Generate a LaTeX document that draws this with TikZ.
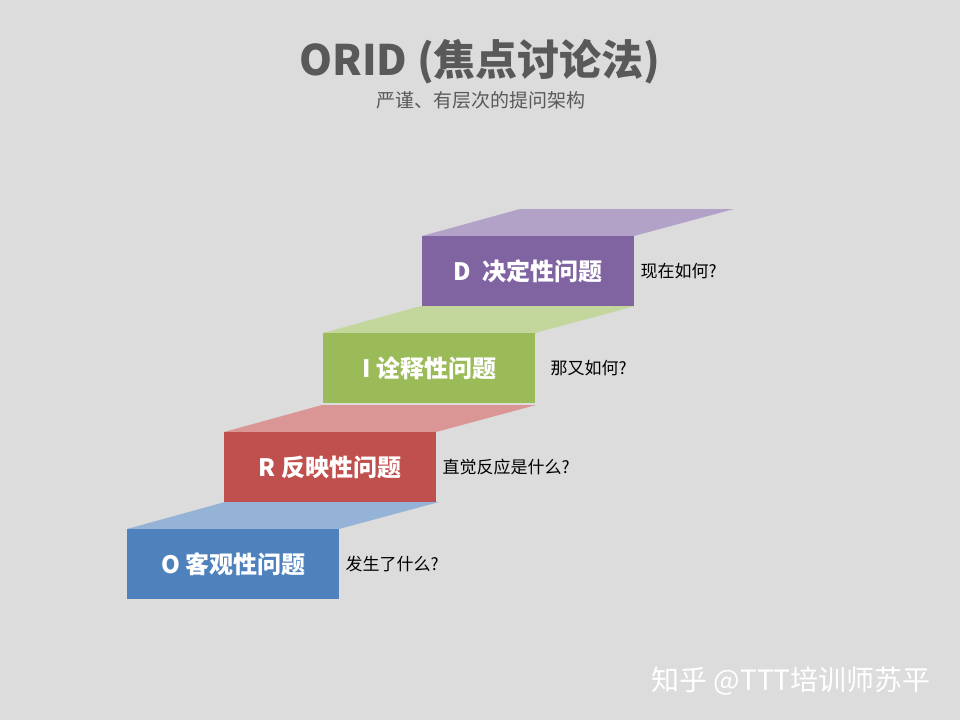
\documentclass[tikz,border=0pt]{standalone}
\usepackage{fontspec}
\setmainfont{Noto Sans CJK SC}
\definecolor{bg}{HTML}{DCDCDC}
\definecolor{ttl}{HTML}{595959}
\definecolor{bF}{HTML}{4F81BD}\definecolor{bT}{HTML}{95B3D7}
\definecolor{rF}{HTML}{C0504D}\definecolor{rT}{HTML}{D99694}
\definecolor{gF}{HTML}{9BBB59}\definecolor{gT}{HTML}{C3D69B}
\definecolor{pF}{HTML}{8064A2}\definecolor{pT}{HTML}{B3A2C7}
\tikzset{front/.style={minimum width=212pt,minimum height=70pt,inner sep=0pt,text=white,font=\fontsize{24}{28}\selectfont\bfseries},
side/.style={anchor=west,font=\fontsize{17}{20}\selectfont}}
\begin{document}
\begin{tikzpicture}[x=1pt,y=-1pt]
\fill[bg] (0,0) rectangle (960,720);
\useasboundingbox (0,0) rectangle (960,720);
\node[text=ttl,font=\fontsize{42}{48}\selectfont\bfseries] (title) at (480,62) {ORID (焦点讨论法)};
\node[text=ttl,font=\fontsize{19}{22}\selectfont] (sub) at (481,100) {严谨、有层次的提问架构};
\foreach \x/\y/\t/\f/\n/\lab/\q/\qx in {
 127/529/bT/bF/o/O 客观性问题/发生了什么?/342,
 224/432/rT/rF/r/R 反映性问题/直觉反应是什么?/439,
 323/333/gT/gF/i/I 诠释性问题/那又如何?/547,
 422/236/pT/pF/d/D\ \ 决定性问题/现在如何?/637}{
 \fill[\t] (\x,\y) -- (\x+98,\y-27) -- (\x+312,\y-27) -- (\x+212,\y) -- cycle;
 \node[front,fill=\f,anchor=north west] (\n) at (\x,\y) {\lab};
 \node[side] (q\n) at (\qx,\y+35) {\q};
}
\node[text=white,font=\fontsize{28}{32}\selectfont] (wm) at (791,681) {知乎 @TTT培训师苏平};
\end{tikzpicture}
\end{document}
